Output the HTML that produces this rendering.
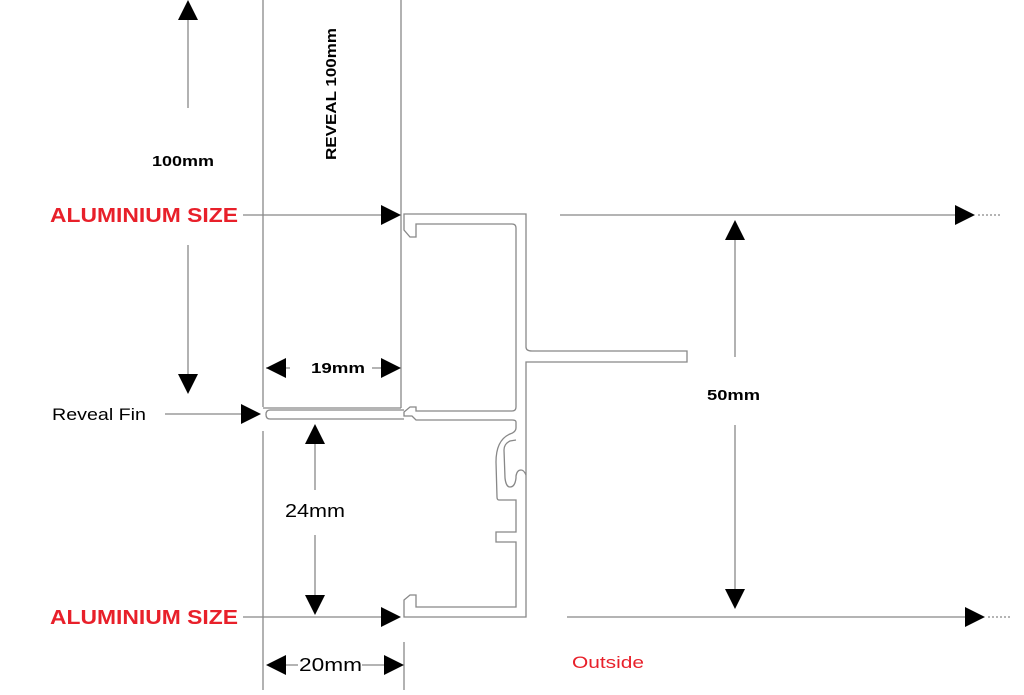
<!DOCTYPE html>
<html><head><meta charset="utf-8"><style>
html,body{margin:0;padding:0;background:#fff;}
svg{display:block;}
text{font-family:"Liberation Sans",sans-serif;}
</style></head><body>
<svg width="1024" height="695" viewBox="0 0 1024 695" xmlns="http://www.w3.org/2000/svg">
<g stroke="#888" stroke-width="1.3" fill="none">
<line x1="263" y1="0" x2="263" y2="407"/>
<line x1="263" y1="431" x2="263" y2="690"/>
<line x1="401" y1="0" x2="401" y2="408"/>
<line x1="263" y1="408" x2="401" y2="408"/>
<line x1="404" y1="642" x2="404" y2="690"/>
<path d="M404,410 L270,410 Q266,410 266,414.5 Q266,419 270,419 L404,419"/>
<path d="M404,214 L526,214 L526,347 Q526,351 532,351 L687,351 L687,362 L526,362 L526,617 L404,617 L404,600 L410,595 L416,595 L416,607 L516,607 L516,542 L496,542 L496,532 L516,532 L516,500 L499,500 Q497,500 497,497 L496,462 Q496,440 510,434 Q516,432 516,428 L516,422 Q516,420 512,420 L416,420 L412,416 L404,416 L404,412 L410,407 L416,407 L416,411 L512,411 Q516,411 516,407 L516,228 Q516,224 512,224 L416,224 L416,237 L410,237 L404,230 Z"/>
<path d="M526,475 Q524,470 521,470 Q517,470 516,476 L516,478 Q515,487 510,487 Q506,487 505,478 L504,450 Q504,444 510,441 L516,440"/>
<line x1="188" y1="10" x2="188" y2="108"/>
<line x1="188" y1="245" x2="188" y2="385"/>
<line x1="243" y1="215" x2="390" y2="215"/>
<line x1="165" y1="414" x2="250" y2="414"/>
<line x1="266" y1="368" x2="290" y2="368"/>
<line x1="372" y1="368" x2="390" y2="368"/>
<line x1="315" y1="432" x2="315" y2="490"/>
<line x1="315" y1="535" x2="315" y2="605"/>
<line x1="243" y1="617" x2="390" y2="617"/>
<line x1="270" y1="665" x2="298" y2="665"/>
<line x1="362" y1="665" x2="395" y2="665"/>
<line x1="560" y1="215" x2="965" y2="215"/>
<line x1="567" y1="617" x2="975" y2="617"/>
<line x1="735" y1="230" x2="735" y2="357"/>
<line x1="735" y1="425" x2="735" y2="600"/>
</g>
<g stroke="#888" stroke-width="1.3" stroke-dasharray="2,2">
<line x1="978" y1="215" x2="1000" y2="215"/>
<line x1="988" y1="617" x2="1012" y2="617"/>
</g>
<g fill="#000">
<path d="M188,0 L178,20 L198,20 Z"/>
<path d="M188,394 L178,374 L198,374 Z"/>
<path d="M401,215 L381,205 L381,225 Z"/>
<path d="M261,414 L241,404 L241,424 Z"/>
<path d="M266,368 L286,358 L286,378 Z"/>
<path d="M401,368 L381,358 L381,378 Z"/>
<path d="M315,424 L305,444 L325,444 Z"/>
<path d="M315,615 L305,595 L325,595 Z"/>
<path d="M401,617 L381,607 L381,627 Z"/>
<path d="M266,665 L286,655 L286,675 Z"/>
<path d="M404,665 L384,655 L384,675 Z"/>
<path d="M975,215 L955,205 L955,225 Z"/>
<path d="M985,617 L965,607 L965,627 Z"/>
<path d="M735,220 L725,240 L745,240 Z"/>
<path d="M735,609 L725,589 L745,589 Z"/>
</g>
<g font-size="15" fill="#000">
<text x="152" y="166" font-weight="bold" textLength="62" lengthAdjust="spacingAndGlyphs">100mm</text>
<text transform="translate(336,160) rotate(-90)" font-weight="bold" textLength="132" lengthAdjust="spacingAndGlyphs">REVEAL 100mm</text>
<text x="52" y="420" font-size="17" textLength="94" lengthAdjust="spacingAndGlyphs">Reveal Fin</text>
<text x="311" y="373" font-weight="bold" textLength="54" lengthAdjust="spacingAndGlyphs">19mm</text>
<text x="285" y="517" font-size="18" textLength="60" lengthAdjust="spacingAndGlyphs">24mm</text>
<text x="299" y="671" font-size="18" textLength="63" lengthAdjust="spacingAndGlyphs">20mm</text>
<text x="707" y="400" font-weight="bold" textLength="53" lengthAdjust="spacingAndGlyphs">50mm</text>
</g>
<g font-size="20" font-weight="bold" fill="#e8202a">
<text x="50" y="222" textLength="188" lengthAdjust="spacingAndGlyphs">ALUMINIUM SIZE</text>
<text x="50" y="624" textLength="188" lengthAdjust="spacingAndGlyphs">ALUMINIUM SIZE</text>
</g>
<text x="572" y="668" font-size="17" fill="#e8202a" textLength="72" lengthAdjust="spacingAndGlyphs">Outside</text>
</svg>
</body></html>
